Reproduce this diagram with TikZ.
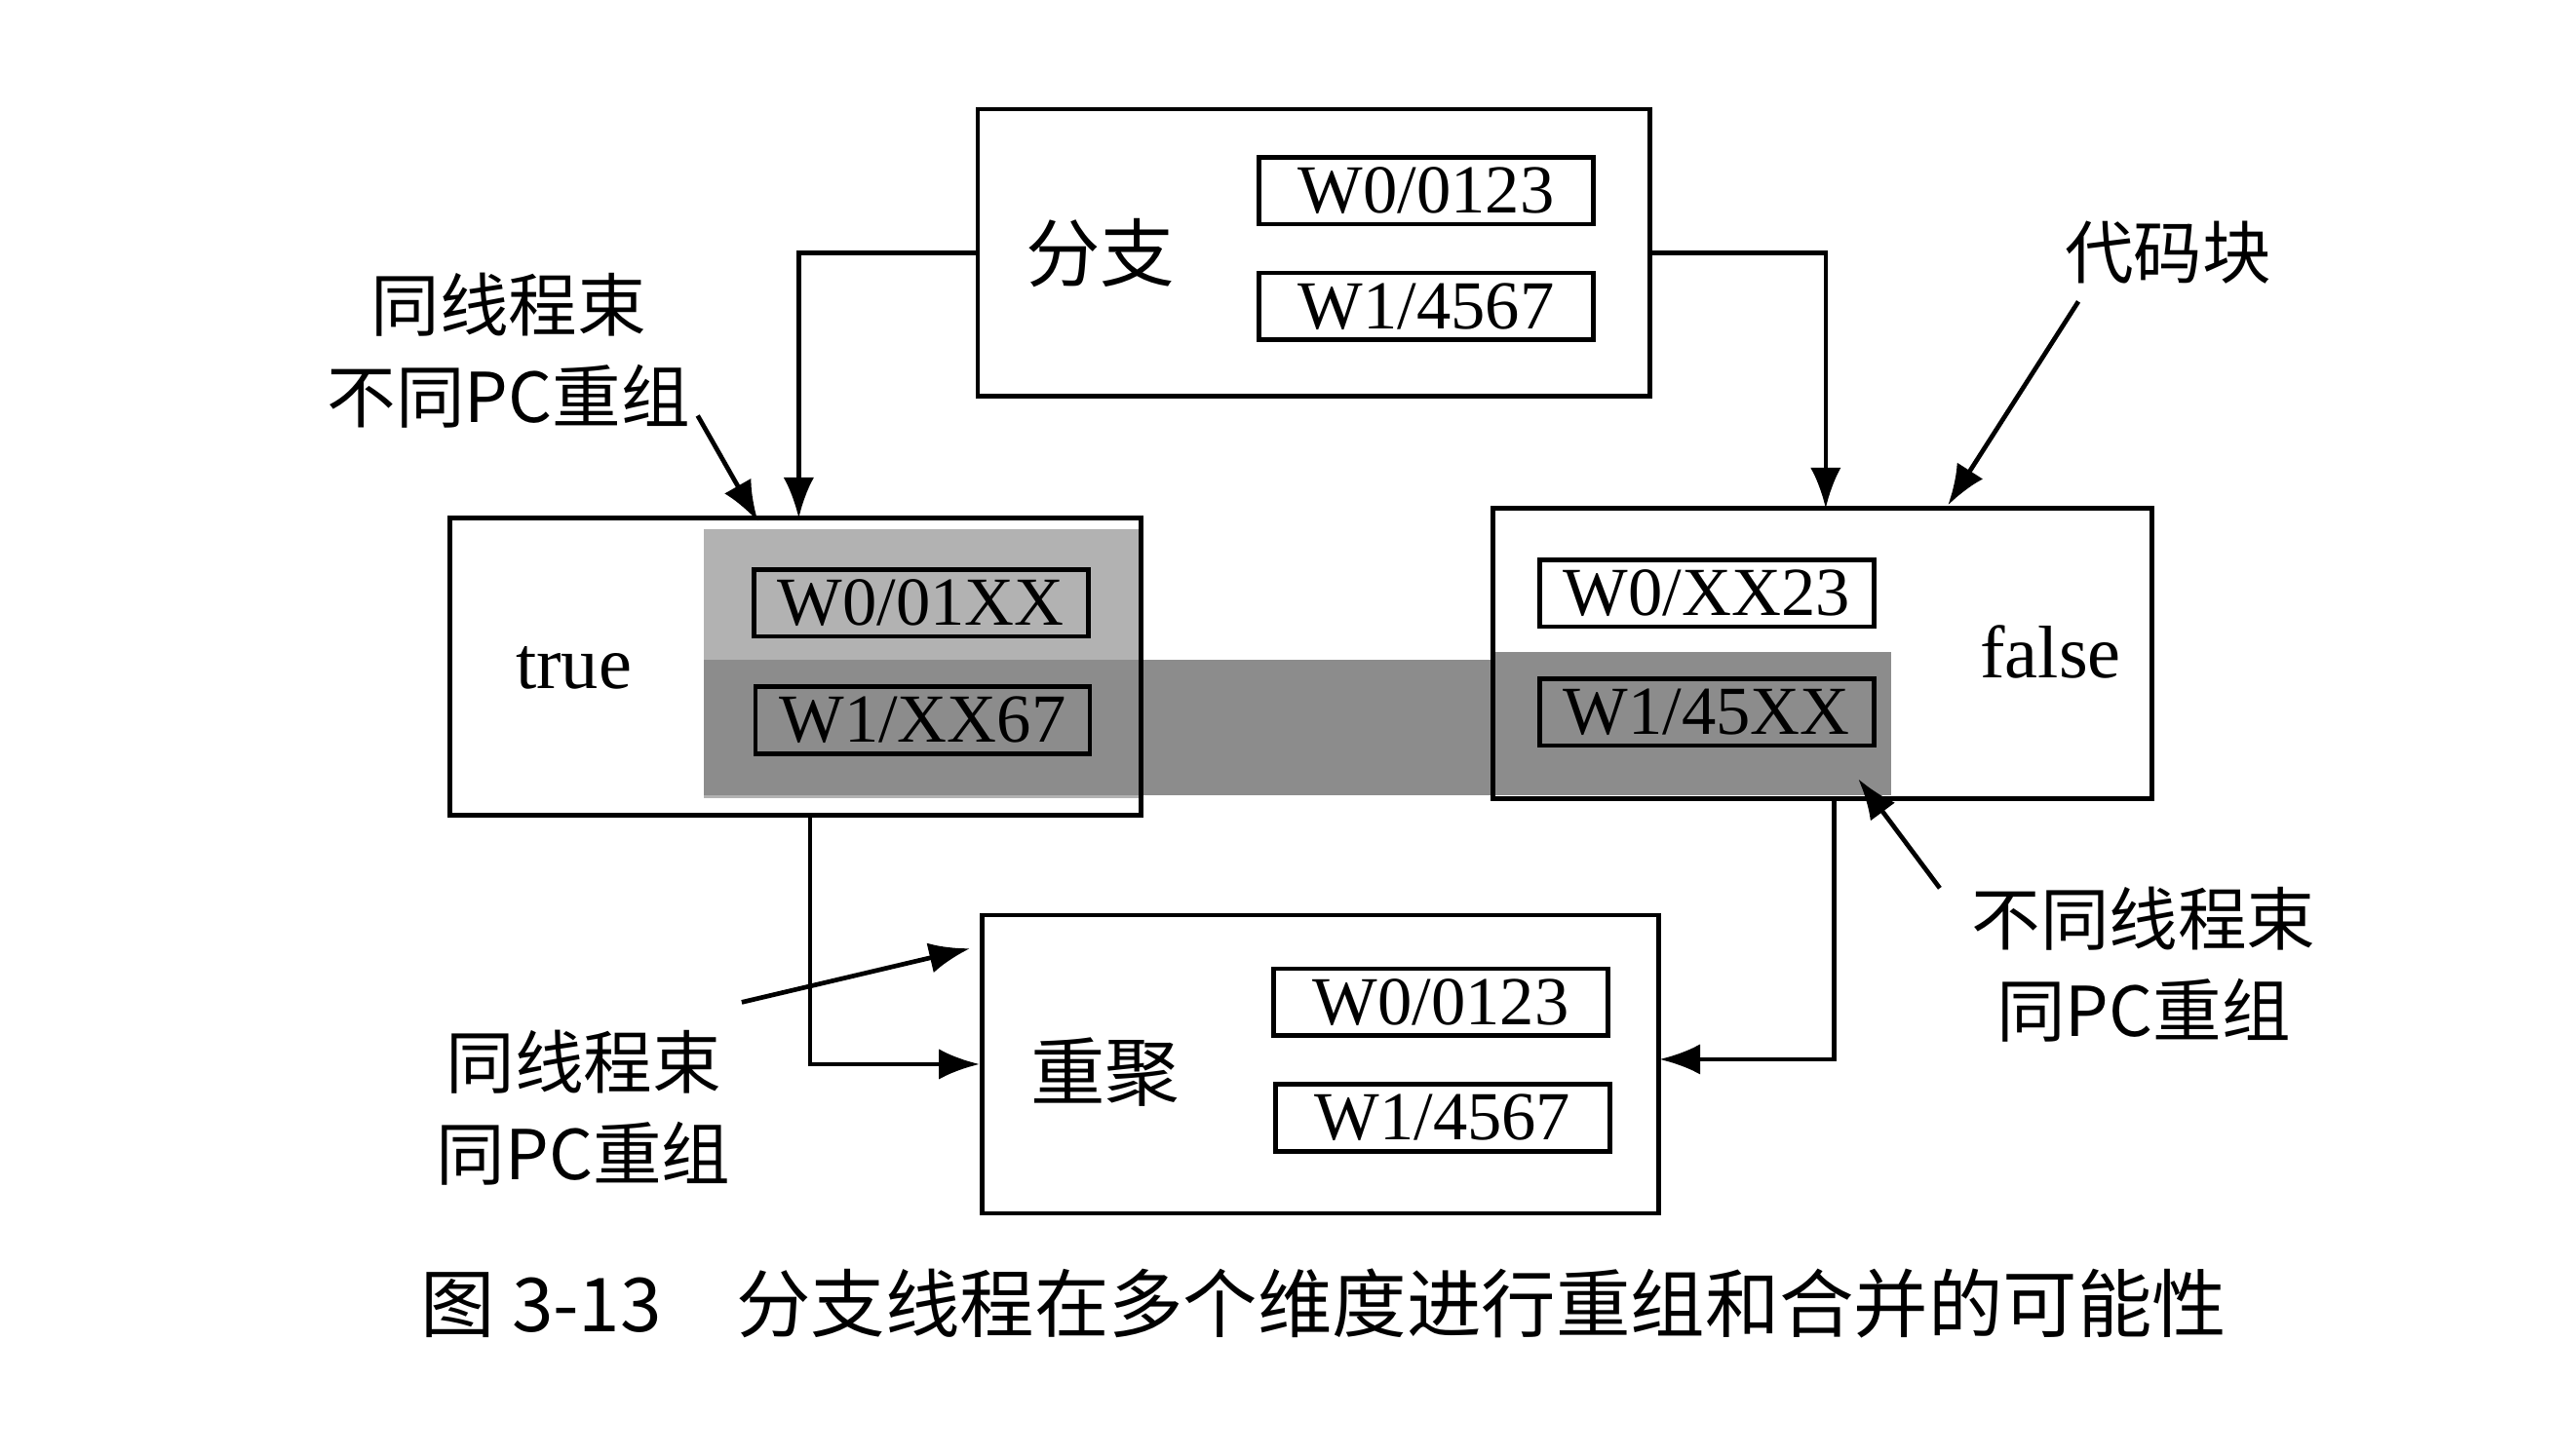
\documentclass[tikz,border=0pt]{standalone}
\usepackage{fontspec}
\setmainfont{Liberation Serif}
\newfontfamily\cjk{Noto Sans CJK SC}
\usetikzlibrary{positioning,arrows.meta}
\begin{document}
\begin{tikzpicture}[x=0.01cm,y=-0.01cm,
      every node/.style={inner sep=0pt,font=\fontsize{12}{15}\selectfont},
      block/.style={draw=black,thick},
      tag/.style={draw=black,thick,minimum width=2.05cm,minimum height=0.41cm,
                  font=\fontsize{12}{15}\selectfont},
      note/.style={align=center,font=\cjk\fontsize{12}{16}\selectfont},
      flow/.style={draw,thick,-{Latex[length=2.5mm]}},
    ]
      \useasboundingbox (0,0) rectangle (1568,893);
      % shading
      \fill[black!30] (432,325) rectangle (700,490);
      \fill[black!45] (432,405) rectangle (1160,488);
      \fill[black!45] (916,400) rectangle (1160,470);
      % boxes
      \node[block,minimum width=4.12cm,minimum height=1.76cm] (branch) at (806,155) {};
      \node[block,minimum width=4.24cm,minimum height=1.82cm] (truebox) at (488,409) {};
      \node[block,minimum width=4.04cm,minimum height=1.78cm] (falsebox) at (1118,401) {};
      \node[block,minimum width=4.15cm,minimum height=1.83cm] (merge) at (810,653) {};
      % labels in boxes
      \node[font=\cjk\fontsize{13}{15}\selectfont] (lbranch) at (675,155) {分支};
      \node[tag] (b0) at (875,117) {W0/0123};
      \node[tag] (b1) at (875,188) {W1/4567};
      \node[font=\fontsize{13}{15}\selectfont] (ltrue) at (352,410) {true};
      \node[tag] (t0) at (565,370) {W0/01XX};
      \node[tag] (t1) at (566,442) {W1/XX67};
      \node[font=\fontsize{13}{15}\selectfont] (lfalse) at (1258,400) {false};
      \node[tag,fill=white] (f0) at (1047,364) {W0/XX23};
      \node[tag] (f1) at (1047,437) {W1/45XX};
      \node[font=\cjk\fontsize{13}{15}\selectfont] (lmerge) at (678,658) {重聚};
      \node[tag] (m0) at (884,615) {W0/0123};
      \node[tag] (m1) at (885,686) {W1/4567};
      % flow
      \path[flow] (branch.west) -| (490,318);
      \path[flow] (branch.east) -| (1120,312);
      \path[flow] (497,500) |- (merge.west);
      \path[flow] (1125,490) |- (1018,650);
      % notes
      \node[note] (n1) at (312,215) {同线程束\\不同PC重组};
      \node[note] (n2) at (1330,155) {代码块};
      \node[note] (n3) at (1315,592) {不同线程束\\同PC重组};
      \node[note] (n4) at (358,680) {同线程束\\同PC重组};
      \coordinate (a1) at (465,320);
      \coordinate (a2) at (1195,310);
      \coordinate (a3) at (1140,478);
      \coordinate (a4) at (595,582);
      \path[flow] (428,255) -- (a1);
      \path[flow] (1275,185) -- (a2);
      \path[flow] (1190,545) -- (a3);
      \path[flow] (455,615) -- (a4);
      \node[font=\cjk\fontsize{13}{15}\selectfont] (cap) at (812,800) {图 3-13\quad 分支线程在多个维度进行重组和合并的可能性};
    \end{tikzpicture}
\end{document}
